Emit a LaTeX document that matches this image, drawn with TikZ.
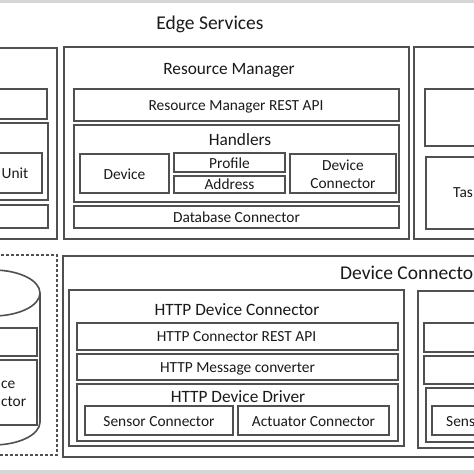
\documentclass[tikz,border=0pt]{standalone}
\usepackage{fontspec}
\setmainfont{Carlito}
\definecolor{lc}{HTML}{505050}
\definecolor{tc}{HTML}{1A1A1A}
\definecolor{band}{HTML}{D6D6D6}
\begin{document}
\begin{tikzpicture}[x=1pt,y=-1pt,
  box/.style={draw=lc,line width=1.6pt},
  dbox/.style={draw=lc,line width=1.4pt,dash pattern=on 3pt off 2pt},
  lbl/.style={text=tc,inner sep=0pt,anchor=base},
  big/.style={font=\fontsize{19.5}{22}\selectfont},
  mid/.style={font=\fontsize{17.3}{20}\selectfont},
  sml/.style={font=\fontsize{15.4}{18.5}\selectfont}]
\useasboundingbox (0,0) rectangle (474,474);
\fill[white] (0,0) rectangle (474,474);
\clip (0,0) rectangle (474,474);
\fill[band] (0,0) rectangle (474,2.5);
\fill[band] (0,470) rectangle (474,474);

% ---------- top row ----------
\node[lbl,big] (edge) at (210,29) {Edge Services};

% left partial box
\draw[box] (-20,48) rectangle (57,239);
\draw[box] (-20,89) rectangle (47,119);
\draw[box] (-20,123) rectangle (48,200);
\draw[box] (-20,153) rectangle (42,193);
\draw[box] (-20,205) rectangle (48,228);
\node[lbl,sml,anchor=base west] (unit) at (1.5,178) {Unit};

% resource manager
\draw[box] (64,47) rectangle (409,239);
\node[lbl,mid] (rm) at (229,74) {Resource Manager};
\draw[box] (74,89) rectangle (399,121);
\node[lbl,sml] (rmapi) at (236,110) {Resource Manager REST API};
\draw[box] (74,125) rectangle (399,202);
\node[lbl,mid] (hand) at (240,145) {Handlers};
\draw[box] (80,154) rectangle (169,193);
\node[lbl,sml] (dev) at (124.5,179) {Device};
\draw[box] (174,153) rectangle (285,172);
\node[lbl,sml] (prof) at (229.5,168) {Profile};
\draw[box] (174,176) rectangle (285,193);
\node[lbl,sml] (addr) at (229.5,189) {Address};
\draw[box] (290,154) rectangle (396,193);
\node[lbl,sml] (dc1) at (343,170) {Device};
\node[lbl,sml] (dc2) at (343,188) {Connector};
\draw[box] (74,206) rectangle (399,228);
\node[lbl,sml] (db) at (236.5,222) {Database Connector};

% right partial box
\draw[box] (414,47) rectangle (490,239);
\draw[box] (425,89) rectangle (490,146);
\draw[box] (426,157) rectangle (490,229);
\node[lbl,sml,anchor=base west] (tas) at (453,197) {Tas};

% ---------- bottom row ----------
\draw[dbox] (-20,255) rectangle (57,455);
\draw[box] (-7,293) ellipse [x radius=47,y radius=23];
\draw[box] (-54,293) -- (-54,422)
  .. controls (-54,434.7) and (-33,445) .. (-7,445)
  .. controls (19,445) and (40,434.7) .. (40,422) -- (40,293);
\draw[box] (-51,328) rectangle (37,356);
\draw[box] (-51,360) rectangle (37,425);
\node[lbl,sml,anchor=base west] (ce) at (1,388) {ce};
\node[lbl,sml,anchor=base west] (ctor) at (1,406) {ctor};

\draw[box] (63,256) rectangle (490,457);
\node[lbl,big,anchor=base west] (dcs) at (340,279) {Device Connecto};

\draw[box] (69,290) rectangle (404,446);
\node[lbl,mid] (httpdc) at (237,315) {HTTP Device Connector};
\draw[box] (77,323) rectangle (398,350);
\node[lbl,sml] (httpapi) at (236.5,341) {HTTP Connector REST API};
\draw[box] (77,354) rectangle (398,380);
\node[lbl,sml] (httpmsg) at (237.5,372) {HTTP Message converter};
\draw[box] (77,384) rectangle (398,441);
\node[lbl,mid] (httpdrv) at (238,402) {HTTP Device Driver};
\draw[box] (85,406) rectangle (233,435);
\node[lbl,sml] (sens) at (159,426) {Sensor Connector};
\draw[box] (238,406) rectangle (389,435);
\node[lbl,sml] (act) at (313.5,426) {Actuator Connector};

\draw[box] (418,291) rectangle (490,448);
\draw[box] (424,323) rectangle (490,352);
\draw[box] (424,356) rectangle (490,384);
\draw[box] (426,388) rectangle (490,442);
\draw[box] (432,406) rectangle (490,435);
\node[lbl,sml,anchor=base west] (sens2) at (446,426) {Sens};
\end{tikzpicture}
\end{document}
